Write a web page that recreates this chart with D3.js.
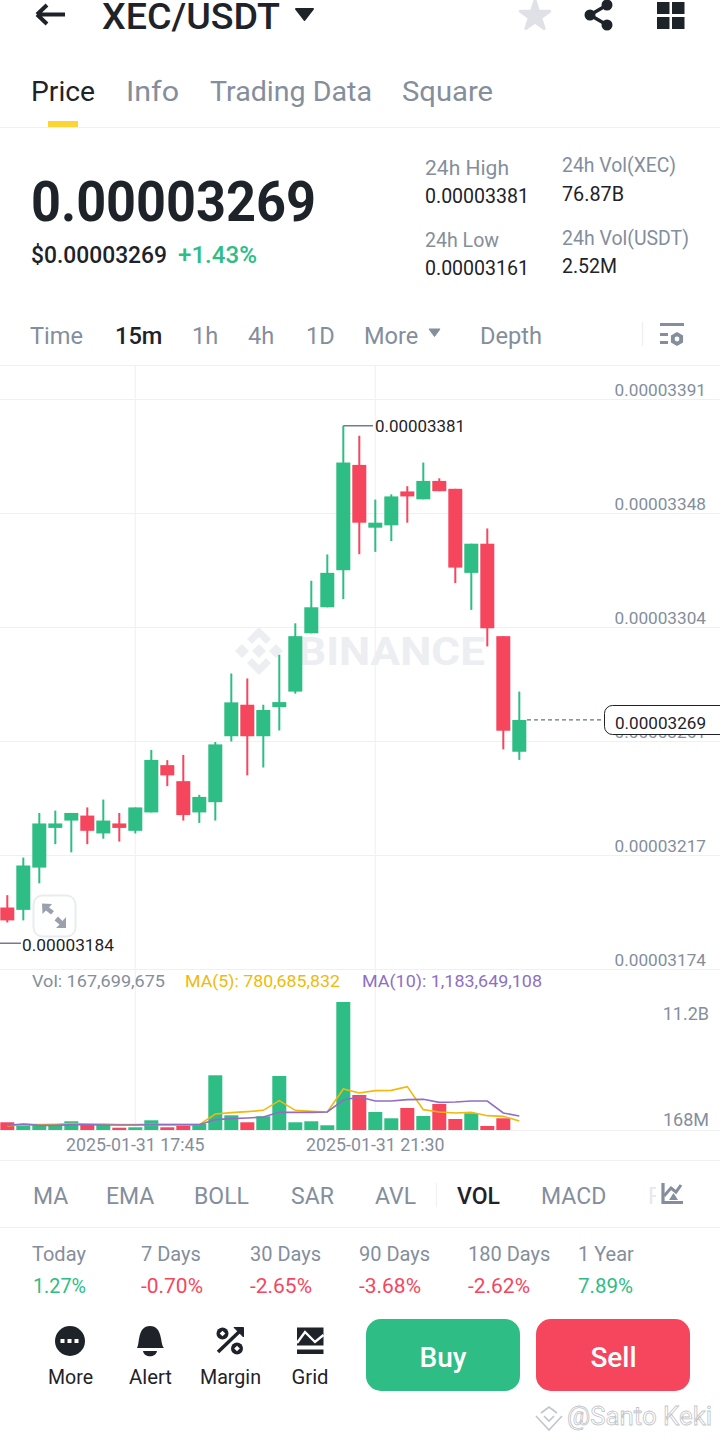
<!DOCTYPE html>
<html><head><meta charset="utf-8">
<script src="https://cdn.jsdelivr.net/npm/d3@7/dist/d3.min.js"></script>
<style>html,body{margin:0;padding:0;background:#fff}svg{display:block}text{font-family:Roboto,sans-serif}</style>
</head><body><svg id="c" width="720" height="1439"></svg>
<script>
const times=["15:45","16:00","16:15","16:30","16:45","17:00","17:15","17:30","17:45","18:00","18:15","18:30","18:45","19:00","19:15","19:30","19:45","20:00","20:15","20:30","20:45","21:00","21:15","21:30","21:45","22:00","22:15","22:30","22:45","23:00","23:15","23:30","23:45"];
const opens=[3197.6,3196.7,3212.8,3227.9,3230.7,3232.6,3225.8,3229.6,3226.8,3233.8,3251.8,3245.7,3233.8,3237.7,3262.8,3274.8,3262.8,3273.9,3279.8,3302,3311.9,3326,3366.1,3342.2,3343.1,3356,3353,3360,3357,3325,3336.1,3300.9,3256.9];
const closes=[3192.7,3213.6,3229.6,3229.6,3233.6,3226.8,3230.7,3227.9,3235.7,3253.8,3247.9,3232.8,3239.7,3259.7,3275.7,3262.8,3272.8,3275.8,3300.9,3311.9,3325,3367,3344.1,3344.1,3354.1,3354.1,3360,3356.1,3327,3336.1,3303.9,3264.9,3269];
const highs=[3202.3,3216.6,3233.6,3234.5,3233.6,3235.7,3238.7,3233.6,3235.7,3257.6,3253.7,3255.7,3240.5,3260.6,3286.7,3284.8,3274.8,3293.8,3305.8,3322,3332,3381,3377.2,3352.9,3354.9,3358,3367,3361,3357,3336.1,3341.9,3300.9,3279.8];
const lows=[3191.9,3192.7,3206.8,3221.7,3218.6,3221.7,3223.8,3222.7,3225.8,3233.8,3243.8,3230.7,3229.8,3230.7,3260.8,3247.9,3250.9,3265,3279,3302,3311.9,3315,3332.1,3333,3337.1,3344.1,3353,3356.1,3321.1,3310.9,3297,3257.8,3253.8];
const volumes=[832,573,599,573,918,625,659,366,401,1004,401,539,685,4883,1435,832,1349,4823,832,918,573,11200,3185,1720,1177,2064,1375,2409,1116,1608,513,1177,168];
const ma5=[513,656,628,656,714,685,685,628,628,656,628,628,628,1547,1662,1748,1863,2696,1863,1777,1719,3702,3357,3558,3587,3903,1921,1719,1633,1691,1403,1346,944];
const ma10=[570,685,570,570,628,628,599,599,599,628,628,628,628,1059,1145,1202,1288,1691,1691,1691,1719,2754,3012,2668,2668,2782,2811,2553,2581,2668,2668,1633,1375];
const priceTicks=[3391,3347.6,3304.2,3260.8,3217.4,3174];
const volTicks=[11200,168];
const volTickLabels=["11.2B","168M"];
const timeTicks=["17:45","21:30"];
const timeLabels={"17:45":"2025-01-31 17:45","21:30":"2025-01-31 21:30"};
const tabs=["Price","Info","Trading Data","Square"];
const tabWidths=[64,53,162,91];
const intervals=["Time","15m","1h","4h","1D","More","Depth"];
const indicators=["MA","EMA","BOLL","SAR","AVL","VOL","MACD"];
const periods=["Today","7 Days","30 Days","90 Days","180 Days","1 Year"];
const changes=["1.27%","-0.70%","-2.65%","-3.68%","-2.62%","7.89%"];

const G="#2ebd85",R="#f6465d",D="#1e2329",M="#848e9c",L="#eef0f2";
const f=v=>"0.0000"+Math.round(v);
const svg=d3.select("#c");
function T(x,y,s,o={}){
  const t=svg.append("text").attr("x",x).attr("y",y).text(s).attr("font-size",o.size||22).attr("fill",o.fill||D)
   .attr("font-weight",o.w||400).attr("text-anchor",o.a||"start").attr("letter-spacing",o.ls||null);
  if(o.tl)t.attr("textLength",o.tl).attr("lengthAdjust","spacingAndGlyphs");
  return t;
}
/* header */
svg.append("path").attr("d","M37 14.5H65M37 14.5L47 5M37 14.5L47 24").attr("stroke",D).attr("stroke-width",4).attr("fill","none");
T(102,29,"XEC/USDT",{size:36,w:500,tl:178});
svg.append("path").attr("d","M296 9H313L304.5 20Z").attr("fill",D).attr("stroke",D).attr("stroke-width",2).attr("stroke-linejoin","round");
svg.append("path").attr("d",d3.symbol(d3.symbolStar,270)()).attr("transform","translate(535,16)").attr("fill","#dfe1e6").attr("stroke","#dfe1e6").attr("stroke-width",3).attr("stroke-linejoin","round");
svg.append("path").attr("d","M590 15L607 5M590 15L607 25").attr("stroke",D).attr("stroke-width",3.5);
[[590,15],[607,5],[607,25]].forEach(p=>svg.append("circle").attr("cx",p[0]).attr("cy",p[1]).attr("r",5.5).attr("fill",D));
[[657,2],[672,2],[657,17],[672,17]].forEach(p=>svg.append("rect").attr("x",p[0]).attr("y",p[1]).attr("width",12.5).attr("height",12).attr("fill",D));
/* tabs */
[31,126,210,402].forEach((x,i)=>T(x,101,tabs[i],{size:28,fill:i?M:D,tl:tabWidths[i]}));
svg.append("rect").attr("x",48).attr("y",121).attr("width",30).attr("height",6).attr("fill","#fcd535");
svg.append("line").attr("x1",0).attr("x2",720).attr("y1",127.5).attr("y2",127.5).attr("stroke",L);
/* price */
T(31,221,f(3269),{size:56,w:700,tl:285});
T(31,263,"$0.00003269",{size:23.5,w:500,tl:136});
T(178,263,"+1.43%",{size:23.5,w:500,fill:G,tl:79});
[[425,175,"24h High",M,84],[425,203,"0.00003381",D,104],[425,247,"24h Low",M,74],[425,275,"0.00003161",D,104],[562,172,"24h Vol(XEC)",M,114],[562,201,"76.87B",D,62],[562,245,"24h Vol(USDT)",M,127],[562,273,"2.52M",D,55]].forEach(a=>T(a[0],a[1],a[2],{size:20,fill:a[3],tl:a[4]}));
/* interval row */
[30,115,192,248,306,364,480].forEach((x,i)=>T(x,344,intervals[i],{size:23.6,fill:i==1?D:M,w:i==1?500:400}));
svg.append("path").attr("d","M429 329H440L434.5 336.5Z").attr("fill",M).attr("stroke",M).attr("stroke-linejoin","round");
svg.append("line").attr("x1",642.5).attr("x2",642.5).attr("y1",322).attr("y2",346).attr("stroke",L).attr("stroke-width",1.5);
svg.append("path").attr("d","M660 324.5H684M660 334.5H668M660 342.5H668").attr("stroke",M).attr("stroke-width",3);
svg.append("path").attr("d",d3.line()(d3.range(6).map(k=>[677+7*Math.sin(k*Math.PI/3),339+7*Math.cos(k*Math.PI/3)]))+"Z").attr("fill",M);
svg.append("circle").attr("cx",677).attr("cy",339).attr("r",2.4).attr("fill","#fff");
svg.append("line").attr("x1",0).attr("x2",720).attr("y1",365.5).attr("y2",365.5).attr("stroke",L);

/* scales */
const x=d3.scaleBand().domain(times).range([-0.7,527.3]).paddingInner(0.125).paddingOuter(0.0625);
const cx=t=>x(t)+x.bandwidth()/2;
const y=d3.scaleLinear().domain([3174,3391]).range([969.5,399.5]);
const yv=d3.scaleLinear().domain([168,11200]).range([1130,1002]);
/* watermark */
const wm=svg.append("g").attr("fill","#eceef1");
wm.append("path").attr("d","M259 627L271 639L266 644L259 637L252 644L247 639ZM259 675L271 663L266 658L259 665L252 658L247 663ZM259 644L266 651L259 658L252 651ZM242 644L249 651L242 658L235 651ZM276 644L283 651L276 658L269 651Z");
wm.append("text").attr("x",298).attr("y",665).text("BINANCE").attr("font-size",38).attr("font-weight",700).attr("textLength",187).attr("lengthAdjust","spacingAndGlyphs");
/* grid */
svg.append("g").selectAll("line").data(priceTicks).join("line").attr("x1",0).attr("x2",720).attr("y1",d=>y(d)).attr("y2",d=>y(d)).attr("stroke",L);
svg.append("g").selectAll("line").data(timeTicks).join("line").attr("x1",d=>cx(d)).attr("x2",d=>cx(d)).attr("y1",366).attr("y2",1130).attr("stroke",L);
svg.append("line").attr("x1",0).attr("x2",720).attr("y1",1130.5).attr("y2",1130.5).attr("stroke",L);
/* price axis */
const pa=svg.append("g").attr("transform","translate(706,0)").call(d3.axisLeft(y).tickValues(priceTicks).tickFormat(f).tickSize(0).tickPadding(0));
pa.select(".domain").remove();
pa.selectAll("text").attr("font-size",17.2).attr("fill",M).attr("dy",-4.2).attr("font-family","Roboto");
/* candles */
const col=i=>closes[i]>=opens[i]?G:R;
const cg=svg.append("g");
cg.selectAll("line").data(times).join("line").attr("x1",d=>cx(d)).attr("x2",d=>cx(d)).attr("y1",(d,i)=>y(highs[i])).attr("y2",(d,i)=>y(lows[i])).attr("stroke",(d,i)=>col(i)).attr("stroke-width",2);
cg.selectAll("rect").data(times).join("rect").attr("x",d=>x(d)).attr("width",x.bandwidth()).attr("y",(d,i)=>y(Math.max(opens[i],closes[i]))).attr("height",(d,i)=>Math.max(1,Math.abs(y(opens[i])-y(closes[i])))).attr("fill",(d,i)=>col(i));
/* hi/low markers */
svg.append("path").attr("d",`M${cx(times[21])} ${y(3381)}H373`).attr("stroke","#6b7280").attr("stroke-width",1.4).attr("fill","none");
T(375,432,"0.00003381",{size:17,tl:90});
svg.append("path").attr("d",`M0 ${y(3184)}H21`).attr("stroke","#6b7280").attr("stroke-width",1.4);
T(22,951,"0.00003184",{size:17,tl:92});
/* current price */
svg.append("line").attr("x1",527).attr("x2",604).attr("y1",y(3269)).attr("y2",y(3269)).attr("stroke","#6b7280").attr("stroke-width",1.2).attr("stroke-dasharray","4 3");
svg.append("rect").attr("x",604.5).attr("y",705.5).attr("width",130).attr("height",29).attr("rx",8).attr("fill","#fff").attr("stroke",D).attr("stroke-width",1);
T(615,729,f(3269),{size:17,tl:91});
/* expand btn */
svg.append("rect").attr("x",33.5).attr("y",895.5).attr("width",42).attr("height",41).attr("rx",9).attr("fill","#fff").attr("fill-opacity",.9).attr("stroke","#eaecef").attr("stroke-width",2);
svg.append("path").attr("d","M42 903.5L52 904L49 907.5L54 911L51 914.5L46 910.5L42.5 914ZM66 928L56 928L59.5 924.5L54.5 920.5L58 916.5L62.5 921L66 917Z").attr("fill","#9aa1ac");
/* volume */
T(32,987,"Vol: 167,699,675",{size:17.3,fill:M,tl:133});
T(185,987,"MA(5): 780,685,832",{size:17.3,fill:"#f0b90b",tl:155});
T(362,987,"MA(10): 1,183,649,108",{size:17.3,fill:"#8e6fc4",tl:180});
svg.append("g").selectAll("rect").data(times).join("rect").attr("x",d=>x(d)).attr("width",x.bandwidth()).attr("y",(d,i)=>yv(volumes[i])).attr("height",(d,i)=>yv(168)-yv(volumes[i])).attr("fill",(d,i)=>col(i));
const ln=a=>d3.line().x((d,i)=>cx(times[i])).y(d=>yv(d))(a);
svg.append("path").attr("d",ln(ma5)).attr("fill","none").attr("stroke","#f0b90b").attr("stroke-width",1.6);
svg.append("path").attr("d",ln(ma10)).attr("fill","none").attr("stroke","#8e6fc4").attr("stroke-width",1.6);
const va=svg.append("g").attr("transform","translate(709,0)").call(d3.axisLeft(yv).tickValues(volTicks).tickFormat((d,i)=>volTickLabels[i]).tickSize(0).tickPadding(0));
va.select(".domain").remove();
va.selectAll("text").attr("font-size",18).attr("fill",M).attr("font-family","Roboto").attr("dy",(d,i)=>i?"-4.5px":"17px");
/* time axis */
const ta=svg.append("g").attr("transform","translate(0,1130)").call(d3.axisBottom(x).tickValues(timeTicks).tickFormat(d=>timeLabels[d]).tickSize(0).tickPadding(0));
ta.select(".domain").remove();
ta.selectAll("text").attr("font-size",17.8).attr("fill",M).attr("font-family","Roboto").attr("dy",21);
/* indicators */
svg.append("line").attr("x1",0).attr("x2",720).attr("y1",1160.5).attr("y2",1160.5).attr("stroke",L);
[33,106,194,291,375,457,541].forEach((xp,i)=>T(xp,1204,indicators[i],{size:23,fill:i==5?D:M,w:i==5?500:400}));
T(648,1204,"R",{size:23,fill:"#e6e8eb"});
svg.append("rect").attr("x",656).attr("y",1176).attr("width",64).attr("height",34).attr("fill","#fff");
svg.append("path").attr("d","M663 1183V1202.5H683").attr("stroke","#848e9c").attr("stroke-width",3.2).attr("fill","none");
svg.append("path").attr("d","M664 1196L671 1188L676 1192L681 1185").attr("stroke","#848e9c").attr("stroke-width",3).attr("fill","none");
svg.append("path").attr("d","M669 1200L673.5 1193L678 1200Z").attr("fill","#848e9c");
svg.append("line").attr("x1",436.5).attr("x2",436.5).attr("y1",1183).attr("y2",1207).attr("stroke",L);
svg.append("line").attr("x1",0).attr("x2",720).attr("y1",1227.5).attr("y2",1227.5).attr("stroke",L);
/* periods */
[32,141,250,359,468,578].forEach((xp,i)=>{T(xp,1261,periods[i],{size:20,fill:M});const neg=changes[i][0]=="-";T(xp+(i==0?1:0),1293,changes[i],{size:20,fill:neg?R:G,tl:neg?62:(i==0?53:55)});});
/* bottom */
const bx=[70.5,150.5,230.5,310],bl=["More","Alert","Margin","Grid"],bw=[45,43,61,37];
bl.forEach((s,i)=>T(bx[i],1384,s,{size:20.2,a:"middle",tl:bw[i]}));
svg.append("circle").attr("cx",70).attr("cy",1341).attr("r",15).attr("fill",D);
[61,68,75].forEach(a=>svg.append("rect").attr("x",a-0.5).attr("y",1339).attr("width",4).attr("height",4).attr("fill","#fff"));
svg.append("path").attr("d","M137 1348C140 1344 137 1326 150 1326C163 1326 160 1344 164 1348ZM143 1351H157C156 1358 144 1358 143 1351Z").attr("fill",D);
svg.append("path").attr("d","M218 1352L240 1331").attr("stroke",D).attr("stroke-width",3.5).attr("fill","none");
svg.append("path").attr("d","M234 1327.5H243.5V1337Z").attr("fill",D).attr("stroke",D).attr("stroke-width",1);
[[222.5,1333.5],[237,1348.5]].forEach(p=>{svg.append("circle").attr("cx",p[0]).attr("cy",p[1]).attr("r",6).attr("fill",D);
 svg.append("path").attr("d",`M${p[0]} ${p[1]-2.8}L${p[0]+2.8} ${p[1]}L${p[0]} ${p[1]+2.8}L${p[0]-2.8} ${p[1]}Z`).attr("fill","#fff");});
svg.append("rect").attr("x",297).attr("y",1327.5).attr("width",26.5).attr("height",18).attr("fill",D);
svg.append("rect").attr("x",297).attr("y",1349.5).attr("width",26.5).attr("height",4.5).attr("fill",D);
svg.append("path").attr("d","M297 1343L305 1332L315 1342L323.5 1335").attr("fill","none").attr("stroke","#fff").attr("stroke-width",2.4);
svg.append("rect").attr("x",366).attr("y",1319).attr("width",154).attr("height",72).attr("rx",15).attr("fill",G);
svg.append("rect").attr("x",536).attr("y",1319).attr("width",154).attr("height",72).attr("rx",15).attr("fill",R);
T(443,1367,"Buy",{size:28,w:500,fill:"#fff",a:"middle"});
T(613.5,1367,"Sell",{size:28,w:500,fill:"#fff",a:"middle"});
/* credit */
T(567,1425,"@Santo Keki",{size:25.5,fill:"#fff",tl:145}).attr("stroke","#c2c5ca").attr("stroke-width",.8);
svg.append("path").attr("d","M536 1416L549 1430L562 1416M541 1413L549 1407L557 1413M544 1416L549 1421L554 1416").attr("fill","none").attr("stroke","#c2c5ca").attr("stroke-width",1.6);
</script></body></html>
